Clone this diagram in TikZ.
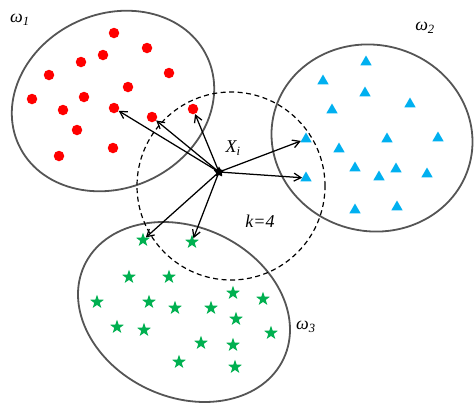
\documentclass[tikz,border=0pt]{standalone}
\usepackage{fontspec}
\setmainfont{Liberation Serif}
\usetikzlibrary{shapes.geometric,arrows.meta}
\definecolor{cyanb}{HTML}{00B0F0}
\definecolor{greens}{HTML}{00B050}
\definecolor{rimgray}{HTML}{555555}
\begin{document}
\begin{tikzpicture}[x=1pt,y=-1pt,
 clus/.style={draw=rimgray, line width=1.8pt, ellipse, inner sep=0pt, outer sep=0pt},
 rdot/.style={circle, fill=red, inner sep=0pt, minimum size=10.5pt},
 tri/.style={regular polygon, regular polygon sides=3, fill=cyanb, inner sep=0pt, minimum size=13pt},
 gstar/.style={star, star points=5, star point ratio=2.5, fill=greens, inner sep=0pt, minimum size=14.5pt},
 cstar/.style={star, star points=5, star point ratio=1.8, fill=black, inner sep=0pt, minimum size=11pt},
 arr/.style={-{Straight Barb[length=7pt,width=8pt]}, line width=1.25pt},
 lab/.style={font=\fontsize{18}{20}\selectfont\itshape, inner sep=0pt}]
\useasboundingbox (0,0) rectangle (474,405);
% clusters
\node[clus, minimum width=208pt, minimum height=174pt, rotate=25] (e1) at (113,101) {};
\node[clus, minimum width=202pt, minimum height=186pt, rotate=-15] (e2) at (372,138) {};
\node[clus, minimum width=220pt, minimum height=170pt, rotate=-25] (e3) at (184,312) {};
\node[draw, dashed, dash pattern=on 5pt off 3.5pt, line width=1.2pt, circle, minimum size=188pt, inner sep=0pt] (nb) at (231,186) {};
% red dots
\foreach \n/\p in {1/{(114,33)},2/{(147,48)},3/{(103,55)},4/{(81,62)},5/{(49,75)},6/{(169,73)},7/{(128,87)},8/{(32,99)},9/{(84,97)},10/{(63,110)},11/{(114,108)},12/{(152,117)},13/{(193,109)},14/{(77,130)},15/{(113,148)},16/{(59,156)}}
  \node[rdot] (r\n) at \p {};
% triangles
\foreach \n/\p in {1/{(366,62)},2/{(323,81)},3/{(365,93)},4/{(410,104)},5/{(332,110)},6/{(306,139)},7/{(387,139)},8/{(438,138)},9/{(339,149)},10/{(355,168)},11/{(396,169)},12/{(379,177)},13/{(427,174)},14/{(306,178)},15/{(355,210)},16/{(397,207)}}
  \node[tri] (t\n) at \p {};
% stars
\foreach \n/\p in {1/{(143,240)},2/{(192,242)},3/{(129,277)},4/{(169,277)},5/{(233,293)},6/{(263,299)},7/{(97,302)},8/{(149,302)},9/{(175,308)},10/{(211,308)},11/{(117,327)},12/{(144,330)},13/{(236,319)},14/{(271,333)},15/{(201,343)},16/{(233,345)},17/{(179,362)},18/{(235,367)}}
  \node[gstar] (s\n) at \p {};
% query point
\node[cstar] (c) at (219,172) {};
% arrows
\foreach \t in {r11,r12,r13,t6,t14,s1,s2}
  \draw[arr] (c.center) -- (\t);
% labels
\node[lab] (l1) at (20,20) {ω\textsubscript{1}};
\node[lab] (l2) at (425,28) {ω\textsubscript{2}};
\node[lab] (l3) at (306,327) {ω\textsubscript{3}};
\node[lab] (lx) at (233,148) {X\textsubscript{i}};
\node[lab] (lk) at (260,221) {k=4};
\end{tikzpicture}
\end{document}
